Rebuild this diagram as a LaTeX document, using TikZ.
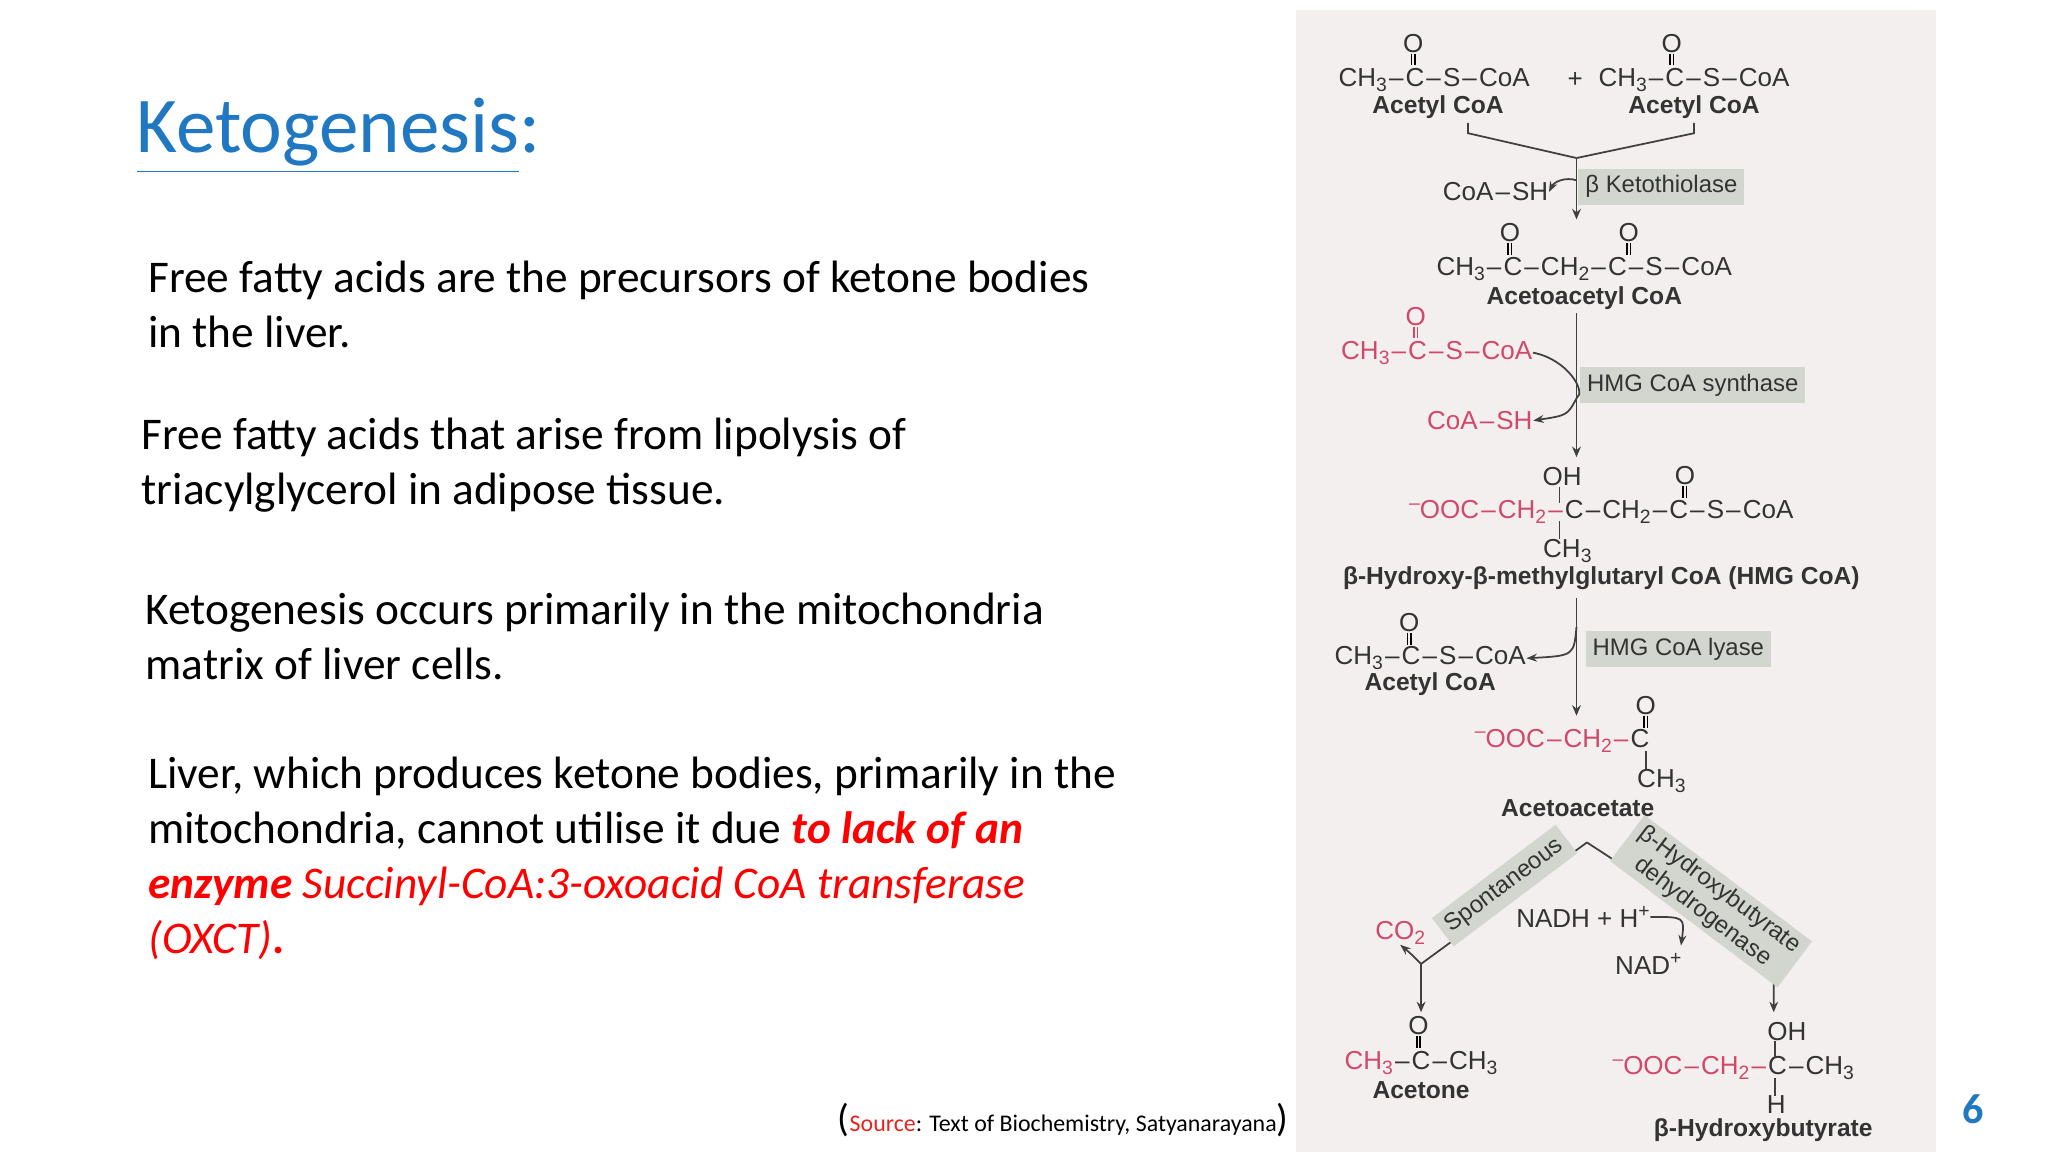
\documentclass[tikz,border=0pt]{standalone}
\usepackage{fontspec}
\setmainfont{Carlito}
\newfontfamily\chemf{Liberation Sans}
\usetikzlibrary{arrows.meta}
\definecolor{ttl}{HTML}{1F78C1}
\definecolor{pk}{HTML}{D0486A}
\definecolor{bgf}{HTML}{F3EFEE}
\definecolor{enz}{HTML}{D3D6CE}
\definecolor{srcred}{HTML}{E8221C}
\newcommand\bd{\kern0.6pt–\kern0.6pt}
\newcommand\chsb[1]{\raisebox{-0.35ex}{\fontsize{5.5}{5.5}\selectfont #1}}
\newcommand\chsp[1]{\raisebox{0.7ex}{\fontsize{5.5}{5.5}\selectfont #1}}
\tikzset{
 body/.style={anchor=base west,inner sep=0pt,font=\fontsize{12.9}{15.6}\selectfont,align=left},
 chem/.style={inner sep=0pt,font=\chemf\fontsize{7.4}{8.5}\selectfont,text=black!80},
 chemb/.style={chem,font=\chemf\bfseries\fontsize{7}{8}\selectfont},
 enzbox/.style={chem,font=\chemf\fontsize{6.8}{8}\selectfont,fill=enz,inner xsep=2pt,inner ysep=2pt},
 rx/.style={draw=black!75,line width=0.5pt},
 rxa/.style={rx,-{Stealth[length=3pt,width=2.5pt]}},
 co/.pic={\draw[line width=0.45pt] (-1.3,8)--(-1.3,17) (1.3,8)--(1.3,17);}
}
\begin{document}
\begin{tikzpicture}[x=0.013061cm,y=-0.013061cm]
\useasboundingbox (0,0) rectangle (1568,882);
\fill[bgf] (992,8) rectangle (1482,882);
% title
\node[anchor=base west,inner sep=0pt,font=\fontsize{22.5}{26}\selectfont,text=ttl] (title) at (104,117) {\underline{Ketogenesis}:};
\node[body] (t1) at (113,266) {Free fatty acids are the precursors of ketone bodies\\in the liver.};
\node[body] (t2) at (108,386) {Free fatty acids that arise from lipolysis of\\triacylglycerol in adipose tissue.};
\node[body] (t3) at (111,520) {Ketogenesis occurs primarily in the mitochondria\\matrix of liver cells.};
\node[body] (t4) at (113,730) {Liver, which produces ketone bodies, primarily in the\\mitochondria, cannot utilise it due \textcolor{red}{\textbf{\textit{to lack of an}}}\\\textcolor{red}{\textbf{\textit{enzyme}} \textit{Succinyl-CoA:3-oxoacid CoA transferase}}\\\textcolor{red}{\textit{(OXCT)}\textbf{.}}};
\node[anchor=base,inner sep=0pt,font=\fontsize{6.8}{9}\selectfont] (src) at (814,866) {{\fontsize{11}{11}\selectfont(}\textcolor{srcred}{Source}: Text of Biochemistry, Satyanarayana{\fontsize{11}{11}\selectfont)}};
\node[inner sep=0pt,font=\bfseries\fontsize{12}{14}\selectfont,text=ttl] (pg) at (1511,849) {6};
% row 1
\node[chem] (a1) at (1098,61) {CH\chsb{3}\bd C\bd S\bd CoA};
\node[chem] at (1082,33) {O}; \pic at (1082,33) {co};
\node[chem] at (1206,61) {+};
\node[chem] (a2) at (1297,61) {CH\chsb{3}\bd C\bd S\bd CoA};
\node[chem] at (1280,33) {O}; \pic at (1280,33) {co};
\node[chemb] (ac1) at (1101,82) {Acetyl CoA};
\node[chemb] (ac2) at (1297,82) {Acetyl CoA};
\coordinate (j1) at (1207,121);
\draw[rx] (1124,94)--(1124,102)--(j1);
\draw[rx] (1297,94)--(1297,102)--(j1);
\node[chem] (cs1) at (1145,147) {CoA\bd SH};
\node[enzbox] (e1) at (1272,143) {β Ketothiolase};
\node[chem] (acac) at (1213,206) {CH\chsb{3}\bd C\bd CH\chsb{2}\bd C\bd S\bd CoA};
\draw[rxa] (j1)--(1207,168);
\draw[rx,-{Stealth[length=3pt]}] (1207,138) to[bend right=40] (cs1.east);
\node[chem] at (1156,178) {O}; \pic at (1156,178) {co};
\node[chem] at (1247,178) {O}; \pic at (1247,178) {co};
\node[chemb] (acacl) at (1213,228) {Acetoacetyl CoA};
% HMG synthase
\node[chem,text=pk] (p1) at (1100,270) {CH\chsb{3}\bd C\bd S\bd CoA};
\node[chem,text=pk] at (1084,242) {O}; \pic[pk] at (1084,242) {co};
\node[chem,text=pk] (cs2) at (1133,322) {CoA\bd SH};
\node[enzbox] (e2) at (1296,295) {HMG CoA synthase};
\draw[rxa] (1207,240)--(1207,350);
\draw[rx] (p1.east) .. controls (1200,275) and (1215,300) .. (1207,305);
\draw[rx,-{Stealth[length=3pt]}] (1207,305) .. controls (1200,318) .. (cs2.east);
% HMG CoA
\node[chem] (oh1) at (1196,365) {OH};
\node[chem] (hmg) at (1226,392) {\textcolor{pk}{\chsp{–}OOC\bd CH\chsb{2}\bd}C\bd CH\chsb{2}\bd C\bd S\bd CoA};
\node[chem] at (1290,364) {O}; \pic at (1290,364) {co};
\node[chem] (ch3a) at (1200,422) {CH\chsb{3}};
\draw[rx,line width=0.45pt] (1194,373)--(1194,385) (1194,399)--(1194,413);
\node[chemb] (hmgl) at (1226,443) {β-Hydroxy-β-methylglutaryl CoA (HMG CoA)};
% lyase
\node[chem] (a3) at (1095,504) {CH\chsb{3}\bd C\bd S\bd CoA};
\node[chem] at (1079,477) {O}; \pic at (1079,477) {co};
\node[chemb] (ac3) at (1095,524) {Acetyl CoA};
\node[enzbox] (e3) at (1285,497) {HMG CoA lyase};
\draw[rxa] (1207,458)--(1207,548);
\draw[rx,-{Stealth[length=3pt]}] (1207,480) .. controls (1205,502) .. (a3.east);
% acetoacetate
\node[chem] (aca) at (1196,567) {\textcolor{pk}{\chsp{–}OOC\bd CH\chsb{2}\bd}C};
\node[chem] at (1260,540) {O}; \pic at (1260,540) {co};
\node[chem] (ch3b) at (1272,598) {CH\chsb{3}};
\draw[rx,line width=0.45pt] (1260,575)--(1260,589);
\node[chemb] (acal) at (1208,619) {Acetoacetate};
% branches
\coordinate (br) at (1215,645);
\draw[rxa] (br)--(1088,738)--(1088,775);
\draw[rxa] (br)--(1358,738)--(1358,775);
\node[enzbox,rotate=37] (sp) at (1152,678) {Spontaneous};
\node[enzbox,rotate=-37,align=center,inner ysep=1pt] (bh) at (1310,690) {β-Hydroxybutyrate\\dehydrogenase};
\node[chem,text=pk] (co2) at (1072,714) {CO\chsb{2}};
\draw[rx,-{Stealth[length=3pt]}] (1088,738) .. controls (1080,730) .. (co2.south);
\node[chem] (nadh) at (1212,702) {NADH + H\chsp{+}};
\node[chem] (nad) at (1262,738) {NAD\chsp{+}};
\draw[rx,-{Stealth[length=3pt]}] (nadh.east) .. controls (1290,702) .. (1287,724);
% acetone
\node[chem] at (1086,785) {O}; \pic at (1086,785) {co};
\node[chem] (act) at (1088,814) {\textcolor{pk}{CH\chsb{3}}\bd C\bd CH\chsb{3}};
\node[chemb] (actl) at (1088,835) {Acetone};
\node[chem] (oh2) at (1368,790) {OH};
\node[chem] (bhb) at (1327,818) {\textcolor{pk}{\chsp{–}OOC\bd CH\chsb{2}\bd}C\bd CH\chsb{3}};
\node[chem] (hh) at (1360,846) {H};
\draw[rx,line width=0.45pt] (1359,797)--(1359,810) (1359,825)--(1359,839);
\node[chemb] (bhbl) at (1350,865) {β-Hydroxybutyrate};
\end{tikzpicture}
\end{document}
